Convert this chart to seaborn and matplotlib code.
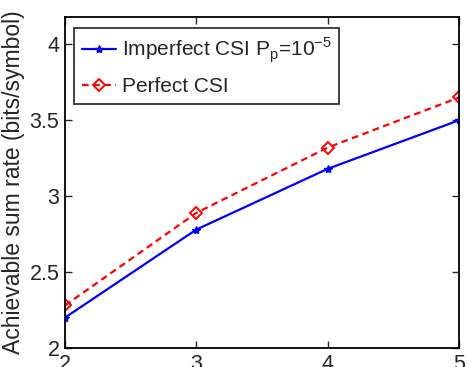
import matplotlib
matplotlib.use("Agg")
import matplotlib.pyplot as plt
import seaborn as sns
import pandas as pd

x_vals = [2, 3, 4, 5]
imperfect = [2.20, 2.78, 3.18, 3.50]
perfect = [2.28, 2.89, 3.32, 3.65]
labels = ["Imperfect CSI P$_{\\mathrm{p}}$=10$^{\\mathrm{-5}}$", "Perfect CSI"]

sns.set_theme(style="ticks")
plt.rcParams['font.family'] = ['Liberation Sans', 'DejaVu Sans']
plt.rcParams['mathtext.fontset'] = 'custom'
plt.rcParams['mathtext.rm'] = 'Liberation Sans'

df = pd.DataFrame({
    "x": x_vals * 2,
    "y": imperfect + perfect,
    "series": [labels[0]] * 4 + [labels[1]] * 4,
})

BLUE = "#0000ff"
RED = "#ff0000"

fig = plt.figure(figsize=(4.74, 3.67), dpi=100)
ax = fig.add_axes([65/474, 19/367, (459-65)/474, (348-17)/367])

sns.lineplot(data=df, x="x", y="y", hue="series", style="series",
             palette={labels[0]: BLUE, labels[1]: RED},
             dashes={labels[0]: "", labels[1]: (3, 2)},
             markers={labels[0]: "*", labels[1]: "D"},
             ax=ax, linewidth=1.6, legend=True)


def style_lines(lines):
    for ln in lines:
        c = ln.get_color()
        if ln.get_marker() == "*":
            ln.set_markerfacecolor(c)
            ln.set_markeredgecolor(c)
            ln.set_markersize(6)
            ln.set_markeredgewidth(1.0)
        elif ln.get_marker() == "D":
            ln.set_markerfacecolor("none")
            ln.set_markeredgecolor(c)
            ln.set_markersize(6)
            ln.set_markeredgewidth(1.4)


style_lines(ax.lines)

ax.set_xlim(2, 5)
ax.set_ylim(2, 4.18)
ax.set_xticks([2, 3, 4, 5])
ax.set_yticks([2, 2.5, 3, 3.5, 4])
ax.set_yticklabels(["2", "2.5", "3", "3.5", "4"])
ax.tick_params(direction="in", top=True, right=True, labelsize=15.5, length=5, width=1, pad=4)
for s in ax.spines.values():
    s.set_visible(True)
    s.set_linewidth(1.3)
    s.set_color("black")
ax.set_xlabel("")
ax.set_ylabel("Achievable sum rate (bits/symbol)", fontsize=16.5, labelpad=3)

handles, lbls = ax.get_legend_handles_labels()
style_lines(handles)
leg = ax.legend(handles, lbls, loc="upper left", fontsize=15, frameon=True, fancybox=False,
                edgecolor="black", handlelength=1.65, handletextpad=0.3, borderpad=0.35,
                labelspacing=0.6, bbox_to_anchor=(0.0, 0.995), borderaxespad=0.45)
leg.get_frame().set_linewidth(1.3)

fig.savefig("out.png", dpi=100)
